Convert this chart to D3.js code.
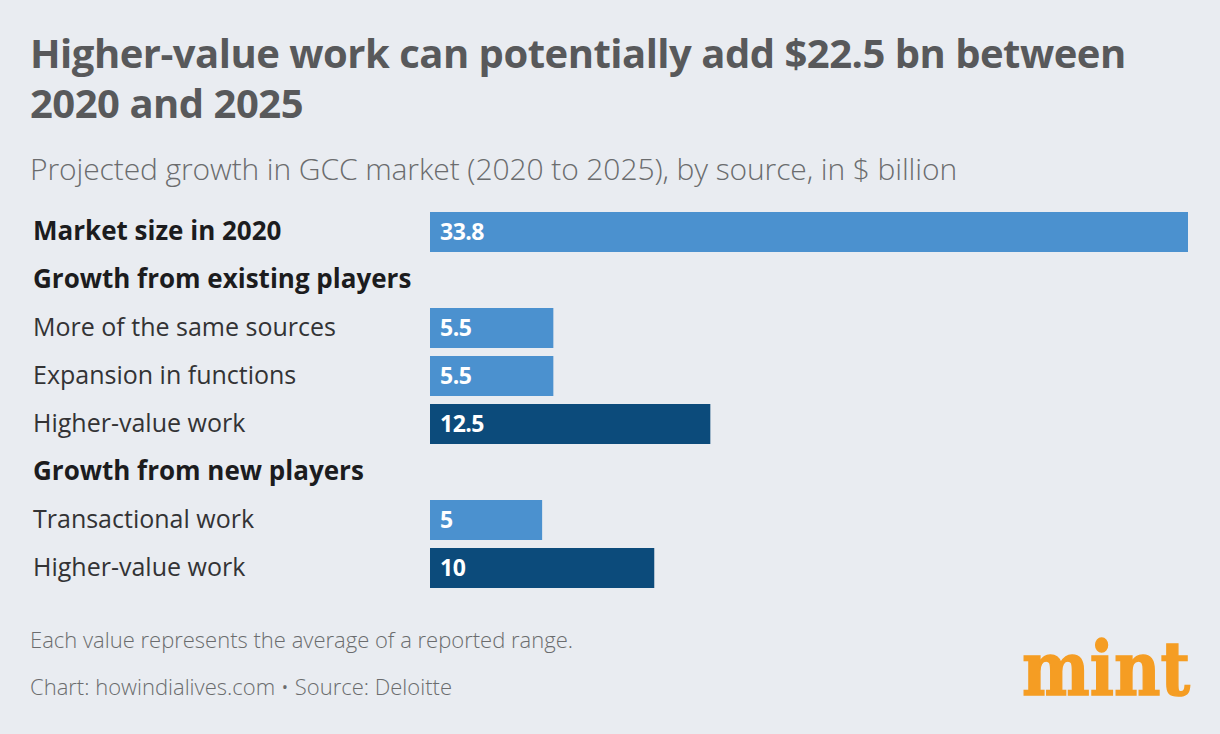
<!DOCTYPE html>
<html>
<head>
<meta charset="utf-8">
<script src="https://cdn.jsdelivr.net/npm/d3@7"></script>
<style>
  body { margin: 0; background: #e9ecf1; }
  svg { display: block; }
</style>
</head>
<body>
<div id="chart"></div>
<script>
// row labels, top to bottom
var rowLabels = [
  "Market size in 2020",
  "Growth from existing players",
  "More of the same sources",
  "Expansion in functions",
  "Higher-value work",
  "Growth from new players",
  "Transactional work",
  "Higher-value work"
];
// null = section heading, no bar
var rowValues = [33.8, null, 5.5, 5.5, 12.5, null, 5, 10];
var rowBold = [true, true, false, false, false, true, false, false];
// "dark" marks the higher-value bars
var rowShade = ["light", null, "light", "light", "dark", null, "light", "dark"];

var svgWidth = 1220;
var svgHeight = 734;
var font = "'Open Sans', sans-serif";

var svg = d3.select("#chart")
  .append("svg")
  .attr("width", svgWidth)
  .attr("height", svgHeight);

svg.append("rect")
  .attr("width", svgWidth)
  .attr("height", svgHeight)
  .attr("fill", "#e9ecf1");

// title
var title = svg.append("text")
  .attr("x", 30)
  .attr("y", 68)
  .attr("font-family", font)
  .attr("font-weight", 700)
  .attr("font-size", 40)
  .attr("letter-spacing", -0.5)
  .attr("fill", "#58595b");
title.append("tspan").attr("x", 30).text("Higher-value work can potentially add $22.5 bn between");
title.append("tspan").attr("x", 30).attr("dy", 50).text("2020 and 2025");

svg.append("text")
  .attr("x", 30)
  .attr("y", 180)
  .attr("font-family", font)
  .attr("font-weight", 300)
  .attr("font-size", 30)
  .attr("letter-spacing", -0.1)
  .attr("fill", "#6b6c6e")
  .text("Projected growth in GCC market (2020 to 2025), by source, in $ billion");

// scales
var x = d3.scaleLinear()
  .domain([0, 33.8])
  .range([430, 1188]);

var y = d3.scaleBand()
  .domain(d3.range(rowLabels.length))
  .range([212, 588])
  .paddingInner(8 / 48)
  .paddingOuter(0);

var colour = d3.scaleOrdinal()
  .domain(["light", "dark"])
  .range(["#4b91cf", "#0c4b7b"]);

var rows = rowLabels.map(function(d, i) {
  return { label: d, value: rowValues[i], bold: rowBold[i], shade: rowShade[i], i: i };
});

// row labels
svg.selectAll(".rowLabel")
  .data(rows)
  .enter()
  .append("text")
  .attr("class", "rowLabel")
  .attr("x", 33)
  .attr("y", d => y(d.i) + y.bandwidth() / 2 + 8)
  .attr("font-family", font)
  .attr("font-weight", d => d.bold ? 700 : 400)
  .attr("font-size", d => d.bold ? 26 : 25)
  .attr("fill", d => d.bold ? "#1c1c1e" : "#333335")
  .text(d => d.label);

var barRows = rows.filter(d => d.value !== null);

// bars
svg.selectAll(".bar")
  .data(barRows)
  .enter()
  .append("rect")
  .attr("class", "bar")
  .attr("x", x(0))
  .attr("y", d => y(d.i))
  .attr("width", d => x(d.value) - x(0))
  .attr("height", y.bandwidth())
  .attr("fill", d => colour(d.shade));

// value labels
svg.selectAll(".barValue")
  .data(barRows)
  .enter()
  .append("text")
  .attr("class", "barValue")
  .attr("x", x(0) + 10)
  .attr("y", d => y(d.i) + y.bandwidth() / 2 + 8)
  .attr("font-family", font)
  .attr("font-weight", 700)
  .attr("font-size", 23)
  .attr("letter-spacing", -0.5)
  .attr("fill", "#ffffff")
  .text(d => d.value);

// footer
svg.append("text")
  .attr("x", 30)
  .attr("y", 648)
  .attr("font-family", font)
  .attr("font-weight", 300)
  .attr("font-size", 22)
  .attr("fill", "#6b6c6e")
  .text("Each value represents the average of a reported range.");

svg.append("text")
  .attr("x", 30)
  .attr("y", 695)
  .attr("font-family", font)
  .attr("font-weight", 300)
  .attr("font-size", 22)
  .attr("fill", "#6b6c6e")
  .text("Chart: howindialives.com \u2022 Source: Deloitte");

// logo
svg.append("text")
  .attr("x", 1022)
  .attr("y", 695)
  .attr("font-family", "'DejaVu Serif', serif")
  .attr("font-weight", 700)
  .attr("font-size", 74)
  .attr("fill", "#f59d23")
  .attr("stroke", "#f59d23")
  .attr("stroke-width", 1.5)
  .attr("textLength", 168)
  .attr("lengthAdjust", "spacingAndGlyphs")
  .text("mint");
</script>
</body>
</html>
